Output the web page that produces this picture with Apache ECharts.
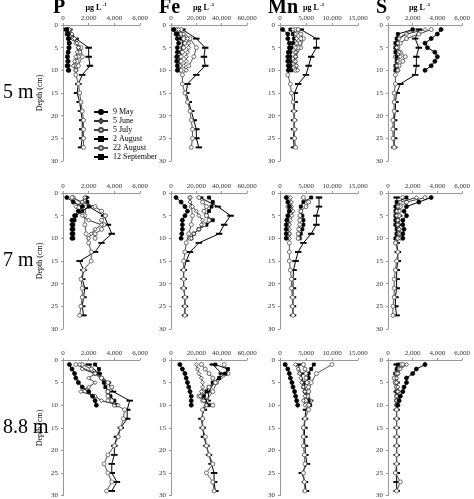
<!DOCTYPE html>
<html><head><meta charset="utf-8">
<script src="https://cdn.jsdelivr.net/npm/echarts@6/dist/echarts.min.js"></script>
<style>html,body{margin:0;padding:0;background:#fff}#c{width:474px;height:499px}</style>
</head><body><div id="c"></div>
<script>
const seriesNames=['9 May','5 June','5 July','2 August','22 August','12 September'];
const shortDepth=[1,2,3,4,5,6,7,8,9,10];
const longDepth=[1,3,5,7,9,11,13,15,17,19,21,23,25,27];
const longDepth3=[1,3,5,7,9,11,13,15,17,19,21,23,25,27,29];
const elements=['P','Fe','Mn','S'];
const stations=['5 m','7 m','8.8 m'];
const xMax=[6000,60000,15000,6000];
const xInterval=[2000,20000,5000,2000];
// [row][col] -> 6 series value lists (order of seriesNames)
const row1_P=[[300,400,450,500,450,400,350,400,400,450],[500,700,900,1100,1200,1100,1000,900,800,1000],[400,600,800,1000,1200,1300,1200,1100,900,1000],[200,300,400,450,500,400,350,350,300,400],[400,800,1400,1500,1200,1000,1200,1300,1400,1500,1600,1600,1600,1600],[500,1000,2000,2000,2100,1500,1200,1100,1300,1400,1500,1500,1500,1400]];
const row1_Fe=[[2000,4000,5000,6000,5000,5000,4500,4500,5000,5000],[6000,10000,13000,14000,14000,13000,12000,12000,10000,12000],[5000,8000,10000,11000,10000,9000,8000,8000,7000,8000],[3000,6000,8000,10000,9000,8000,7000,7000,6000,7000],[8000,15000,20000,18000,14000,9000,9000,11000,13000,15000,16000,17000,17000,16000],[9000,20000,27000,26000,27000,20000,13000,12000,14000,16000,18000,20000,20000,22000]];
const row1_Mn=[[500,1500,1500,1800,1800,1600,1500,1500,1600,1600],[2500,3000,3200,3200,3000,3000,3000,3000,3200,3400],[3500,4000,4000,3800,3500,3000,3000,2800,3000,3000],[2000,2500,2700,2500,2200,2000,2000,2000,2000,2200],[3000,4500,4000,3000,2000,1500,2000,2200,2500,2700,2800,2800,2800,3000],[4000,7000,7000,6000,5500,5000,3500,2800,2800,2700,2700,2700,2600,2700]];
const row1_S=[[4300,4000,3500,3000,3200,3800,4000,3800,3500,3000],[3000,1500,900,800,700,900,1000,800,700,800],[3500,2500,1500,1000,800,1000,1400,1200,900,800],[2000,800,700,600,600,600,700,700,600,600],[2000,800,700,600,700,600,600,500,500,500,400,400,400,500],[2500,2200,2500,2300,2300,2200,1000,700,600,600,500,500,500,500]];
const row2_P=[[300,800,1500,1200,900,700,700,700,700,700],[1700,1500,1000,1200,1500,2000,3000,2500,2200,2000],[700,1500,2500,3000,3300,3000,3200,3000,2500,2500],[1800,1900,2000,1500,1000,900,800,800,800,800],[800,1800,1700,1700,1800,2000,2200,2200,1600,1400,1500,1500,1400,1300],[1800,2000,3200,3500,3800,3000,2500,1300,1600,1500,1700,1600,1500,1600]];
const row2_Fe=[[4000,8000,11000,13000,11000,9000,9000,9000,8500,8000],[15000,15000,17000,20000,22000,25000,24000,22000,18000,16000],[22000,25000,28000,26000,28000,30000,26000,22000,18000,15000],[30000,33000,32000,30000,28000,33000,28000,22000,18000,16000],[15000,16000,17000,16000,14000,12000,11000,10000,10000,10000,10000,11000,11000,11000],[23000,37000,47000,42000,38000,22000,15000,12000,10000,10000,10000,11000,11000,11000]];
const row2_Mn=[[1200,1500,1800,1800,1500,1300,1200,1200,1200,1200],[2000,2200,2200,2500,2300,2000,1800,1800,1800,1800],[4500,5500,5000,4000,3800,3800,3800,3600,3500,3500],[6000,4500,4000,4000,4300,4500,4500,4300,4000,3800],[1500,1500,1600,1700,1800,1800,1800,1800,2000,2200,2200,2400,2400,2500],[7500,7500,7000,7000,6000,4500,3500,3000,2600,2500,2500,2500,2500,2500]];
const row2_S=[[3500,2500,1500,1300,1500,1200,1200,1300,1200,1200],[2300,1000,800,700,700,800,800,900,1000,1000],[3000,1500,1000,900,900,800,800,900,900,800],[1500,700,600,600,600,600,600,700,700,600],[1200,800,700,700,700,600,800,700,600,500,500,500,400,400],[700,800,900,900,1000,700,800,800,700,700,700,600,600,700]];
const row3_P=[[500,700,900,1000,1200,1500,2000,2300,2500,2600],[1300,1500,2500,2000,2500,2000,1400,2500,3000,4300],[1500,2200,2500,3000,3500,3800,3500,3500,3800,4000],[2500,2800,2800,3000,3200,3300,3500,3700,4000,4200],[1000,2500,3200,3500,3500,4800,4700,4500,4300,4000,3500,3200,3500,3800,3400],[2000,2800,3500,3900,5200,5000,5000,4500,4200,4000,4000,3800,3800,4200,3800]];
const row3_Fe=[[7000,9000,11000,12000,13000,14000,15000,16000,16000,16000],[20000,21000,22000,24000,25000,25000,24000,23000,26000,28000],[24000,27000,30000,33000,35000,30000,25000,22000,25000,33000],[35000,45000,43000,38000,33000,30000,28000,26000,27000,30000],[42000,45000,36000,33000,28000,25000,25000,25000,27000,28000,30000,33000,28000,33000,34000],[33000,40000,34000,30000,29000,26000,24000,25000,26000,28000,30000,32000,34000,34000,35000]];
const row3_Mn=[[1000,1500,1800,2000,2300,2500,2800,3000,3200,3400],[3000,3500,3800,4000,4200,4500,4800,4800,4500,4800],[4500,4800,5000,5000,5200,5500,5500,5300,5000,5500],[6500,6000,5500,5500,5000,4500,4800,5000,5500,5800],[10000,7000,6000,5500,5800,5500,4800,4500,4500,4500,4700,4800,4500,4700,4800],[3500,4000,4500,5000,5800,5000,4800,4700,4700,4800,4900,5200,4200,4800,5000]];
const row3_S=[[3000,2300,2000,1500,1500,1300,1200,1000,900,800],[1500,1000,800,700,700,800,800,700,700,700],[1200,900,700,500,600,700,800,700,700,700],[800,700,600,600,600,700,700,700,700,700],[1000,800,700,700,700,700,700,700,700,700,700,700,600,1000,700],[700,700,700,700,800,700,700,700,700,700,700,700,700,700,700]];
const panels=[[row1_P,row1_Fe,row1_Mn,row1_S],[row2_P,row2_Fe,row2_Mn,row2_S],[row3_P,row3_Fe,row3_Mn,row3_S]];

const gridLeft=[63,171,280,388], gridW=[77,76,78,74];
const gridTop=[25,193,360], gridH=136;
const FONT='Liberation Serif';
const styles=[
 {symbol:'circle',fill:'#000',line:'#000'},
 {symbol:'diamond',fill:'#fff',line:'#333'},
 {symbol:'circle',fill:'#fff',line:'#444'},
 {symbol:'rect',fill:'#000',line:'#000'},
 {symbol:'circle',fill:'#fff',line:'#555'},
 {symbol:'rect',fill:'#000',line:'#000',dash:true}];
const grids=[],xAxes=[],yAxes=[],series=[],graphics=[];
let gi=0;
for(let r=0;r<3;r++){
 for(let c=0;c<4;c++){
  grids.push({left:gridLeft[c],top:gridTop[r],width:gridW[c],height:gridH});
  xAxes.push({gridIndex:gi,type:'value',position:'top',min:0,max:xMax[c],interval:xInterval[c],
   axisLine:{show:true,lineStyle:{color:'#999'}},axisTick:{show:true,length:2,lineStyle:{color:'#999'}},splitLine:{show:false},
   axisLabel:{fontFamily:FONT,fontSize:7,color:'#333',margin:3}});
  yAxes.push({gridIndex:gi,type:'value',inverse:true,min:0,max:30,interval:5,
   axisLine:{show:true,lineStyle:{color:'#999'}},axisTick:{show:true,length:2,inside:false,lineStyle:{color:'#999'}},splitLine:{show:false},
   axisLabel:{fontFamily:FONT,fontSize:7,color:'#333',margin:5}});
  const d=panels[r][c];
  for(let s=0;s<6;s++){
   const depths=s<4?shortDepth:(r===2?longDepth3:longDepth);
   const st=styles[s];
   series.push({name:seriesNames[s],type:'line',xAxisIndex:gi,yAxisIndex:gi,
    data:d[s].map((v,i)=>[v,depths[i]]),symbol:st.symbol,symbolSize:st.dash?[5,1.5]:(s===3?3:4),
    itemStyle:{color:st.fill,borderColor:st.line,borderWidth:0.8},
    lineStyle:{color:st.line,width:1},animation:false,z:10-s});
  }
  gi++;
 }
 graphics.push({type:'text',left:3,top:gridTop[r]+58+(r===0?0:0),style:{text:stations[r],font:'20px '+FONT,fill:'#000'}});
 graphics.push({type:'text',x:40,y:gridTop[r]+68,rotation:Math.PI/2,style:{text:'Depth (cm)',font:'8px '+FONT,fill:'#000',align:'center',verticalAlign:'middle'}});
}
for(let c=0;c<4;c++){
 graphics.push({type:'text',left:gridLeft[c]-2-(c===0?8:10),top:-2,style:{text:elements[c],font:'bold 20px '+FONT,fill:'#000'}});
 graphics.push({type:'text',left:gridLeft[c]+gridW[c]/2-16,top:4,style:{text:'µg L',font:'bold 8px '+FONT,fill:'#000'}});
 graphics.push({type:'text',left:gridLeft[c]+gridW[c]/2+1,top:2,style:{text:'-1',font:'bold 5px '+FONT,fill:'#000'}});
}
const chart=echarts.init(document.getElementById('c'));
chart.setOption({animation:false,grid:grids,xAxis:xAxes,yAxis:yAxes,series:series,graphic:graphics,
 legend:{data:seriesNames,orient:'vertical',left:88,top:103,itemGap:1,itemWidth:14,itemHeight:5,
  textStyle:{fontFamily:FONT,fontSize:8,color:'#000'},selectedMode:false}});
</script></body></html>
